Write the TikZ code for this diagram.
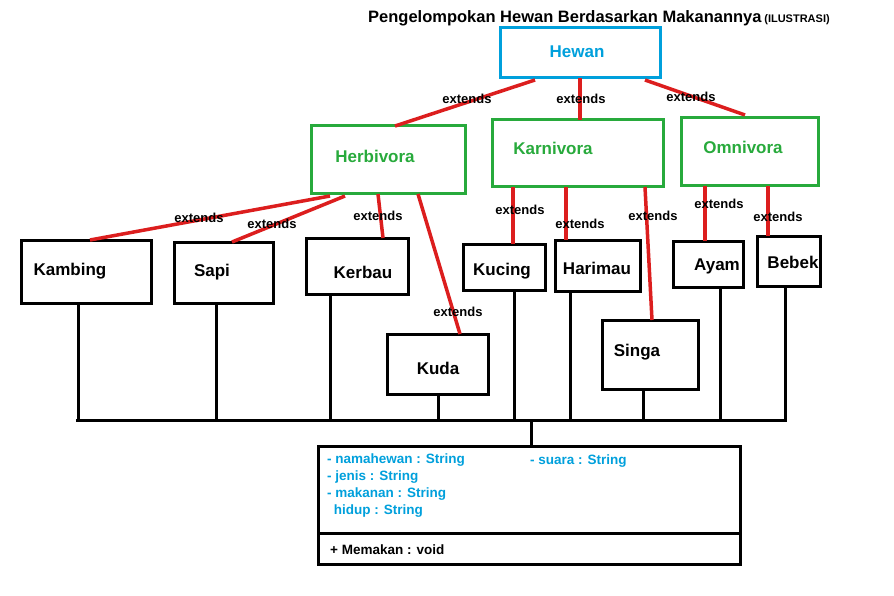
\documentclass[tikz,border=0pt]{standalone}
\usepackage{fontspec}
\setmainfont{Liberation Sans}
\definecolor{hblue}{RGB}{0,160,220}
\definecolor{hgreen}{RGB}{40,170,60}
\definecolor{hred}{RGB}{220,30,30}
\begin{document}
\begin{tikzpicture}[x=1pt,y=-1pt,
  box/.style={draw=black,line width=3pt},
  lbl/.style={font=\bfseries\fontsize{17}{19}\selectfont},
  ext/.style={font=\bfseries\fontsize{13}{14}\selectfont},
  redl/.style={draw=hred,line width=3.5pt},
  blk/.style={draw=black,line width=3pt},
  attr/.style={font=\bfseries\fontsize{13.5}{15}\selectfont,text=hblue,anchor=west,inner sep=0pt}]
\useasboundingbox (0,0) rectangle (894,596);
\fill[white] (0,0) rectangle (894,596);
\node[font=\bfseries\fontsize{16.5}{18}\selectfont,anchor=west,inner sep=0pt] (title) at (368,18) {Pengelompokan Hewan Berdasarkan Makanannya\,{\fontsize{11}{12}\selectfont(ILUSTRASI)}};
% boxes
\draw[box,draw=hblue] (500,28) rectangle (660,78);
\node[lbl,text=hblue] (hewan) at (577,52) {Hewan};
\draw[box,draw=hgreen] (311,126) rectangle (465,194);
\node[lbl,text=hgreen] (herb) at (375,156) {Herbivora};
\draw[box,draw=hgreen] (492,120) rectangle (663,187);
\node[lbl,text=hgreen] (karn) at (553,148) {Karnivora};
\draw[box,draw=hgreen] (681,118) rectangle (818,186);
\node[lbl,text=hgreen] (omni) at (743,147) {Omnivora};
\draw[box] (21,240) rectangle (151,303); \node[lbl] (kambing) at (70,271) {Kambing};
\draw[box] (174,242) rectangle (273,303); \node[lbl] (sapi) at (212,272) {Sapi};
\draw[box] (306,238) rectangle (408,294); \node[lbl] (kerbau) at (363,272) {Kerbau};
\draw[box] (387,334) rectangle (488,394); \node[lbl] (kuda) at (438,368) {Kuda};
\draw[box] (463,244) rectangle (545,290); \node[lbl] (kucing) at (502,271) {Kucing};
\draw[box] (555,240) rectangle (640,291); \node[lbl] (harimau) at (597,268) {Harimau};
\draw[box] (602,320) rectangle (698,389); \node[lbl] (singa) at (637,352) {Singa};
\draw[box] (673,241) rectangle (743,287); \node[lbl] (ayam) at (717,266) {Ayam};
\draw[box] (757,236) rectangle (820,286); \node[lbl] (bebek) at (793,262) {Bebek};
% red connectors
\draw[redl] (535,80) -- (395,126);
\draw[redl] (580,78) -- (580,120);
\draw[redl] (645,80) -- (745,115);
\draw[redl] (330,196) -- (90,240);
\draw[redl] (345,196) -- (232,242);
\draw[redl] (378,194) -- (383,238);
\draw[redl] (418,194) -- (460,334);
\draw[redl] (513,187) -- (513,244);
\draw[redl] (566,187) -- (566,240);
\draw[redl] (645,187) -- (652,320);
\draw[redl] (705,186) -- (705,241);
\draw[redl] (768,186) -- (768,236);
\foreach \p in {(467,99),(581,99),(691,97),(199,218),(272,224),(378,216),(458,312),(520,210),(580,224),(653,216),(719,204),(778,217)}
  \node[ext] at \p {extends};
% black tree
\draw[blk] (78,303) -- (78,420);
\draw[blk] (216,303) -- (216,420);
\draw[blk] (330,294) -- (330,420);
\draw[blk] (438,394) -- (438,420);
\draw[blk] (514,290) -- (514,420);
\draw[blk] (570,291) -- (570,420);
\draw[blk] (643,389) -- (643,420);
\draw[blk] (720,287) -- (720,420);
\draw[blk] (785,286) -- (785,420);
\draw[blk] (76,420) -- (787,420);
\draw[blk] (531,420) -- (531,446);
% class box
\draw[box] (318,446) rectangle (740,564);
\draw[blk] (318,533) -- (740,533);
\node[attr] (a1) at (327,460) {- namahewan : String};
\node[attr] (a2) at (530,461) {- suara : String};
\node[attr] (a3) at (327,477) {- jenis : String};
\node[attr] (a4) at (327,494) {- makanan : String};
\node[attr] (a5) at (330,511) {~hidup : String};
\node[attr,text=black] (m1) at (330,550) {+ Memakan : void};
\end{tikzpicture}
\end{document}
